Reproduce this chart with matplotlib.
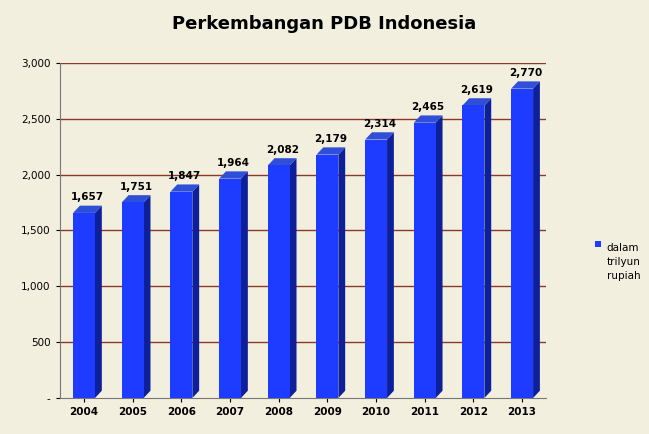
import matplotlib
matplotlib.use('Agg')
import matplotlib.pyplot as plt
from matplotlib.patches import Polygon, Rectangle

years = ["2004", "2005", "2006", "2007", "2008", "2009", "2010", "2011", "2012", "2013"]
pdb = [1657, 1751, 1847, 1964, 2082, 2179, 2314, 2465, 2619, 2770]
yticks = [0, 500, 1000, 1500, 2000, 2500, 3000]
ytick_labels = ["-", "500", "1,000", "1,500", "2,000", "2,500", "3,000"]

BG = "#f3efdf"
FRONT = "#1d3cff"
SIDE = "#0d1f99"
TOP = "#2f4fd8"
GRID = "#8b3a2a"

fig = plt.figure(figsize=(6.49, 4.34), dpi=100)
fig.patch.set_facecolor(BG)
ax = fig.add_axes([0.092, 0.083, 0.75, 0.772])
ax.set_facecolor(BG)

w, dx, dy = 0.45, 0.14, 65
n = len(years)
ax.set_xlim(-0.5, n - 0.5)
ax.set_ylim(0, 3000)

for v in yticks[1:]:
    ax.plot([-0.5, n - 0.5], [v, v], color=GRID, lw=1, zorder=1)

for i, v in enumerate(pdb):
    x0 = i - w / 2
    ax.add_patch(Polygon([(x0 + w, 0), (x0 + w + dx, dy), (x0 + w + dx, v + dy), (x0 + w, v)],
                         closed=True, facecolor=SIDE, edgecolor='none', zorder=3))
    ax.add_patch(Polygon([(x0, v), (x0 + dx, v + dy), (x0 + w + dx, v + dy), (x0 + w, v)],
                         closed=True, facecolor=TOP, edgecolor='none', zorder=3))
    ax.add_patch(Rectangle((x0, 0), w, v, facecolor=FRONT, edgecolor='none', zorder=4))
    ax.text(i + dx / 2, v + dy + 30, f"{v:,}", ha='center', va='bottom', fontsize=7.5,
            fontweight='bold', color='black', zorder=5)

ax.set_xticks(range(n))
ax.set_xticklabels(years, fontsize=7.5, fontweight='bold')
ax.set_yticks(yticks)
ax.set_yticklabels(ytick_labels, fontsize=7.5)
for s in ['top', 'right']:
    ax.spines[s].set_visible(False)
ax.spines['left'].set_color('#777777')
ax.spines['bottom'].set_color('#777777')
ax.tick_params(length=3, colors='black')

fig.text(0.5, 0.945, "Perkembangan PDB Indonesia", ha='center', va='center',
         fontsize=13, fontweight='bold')

fig.patches.append(Rectangle((0.917, 0.432), 0.009, 0.013, facecolor=FRONT,
                             transform=fig.transFigure, figure=fig))
fig.text(0.935, 0.44, "dalam\ntrilyun\nrupiah", ha='left', va='top', fontsize=7.5,
         linespacing=1.5)
fig.savefig("out.png", dpi=100, facecolor=fig.get_facecolor())
